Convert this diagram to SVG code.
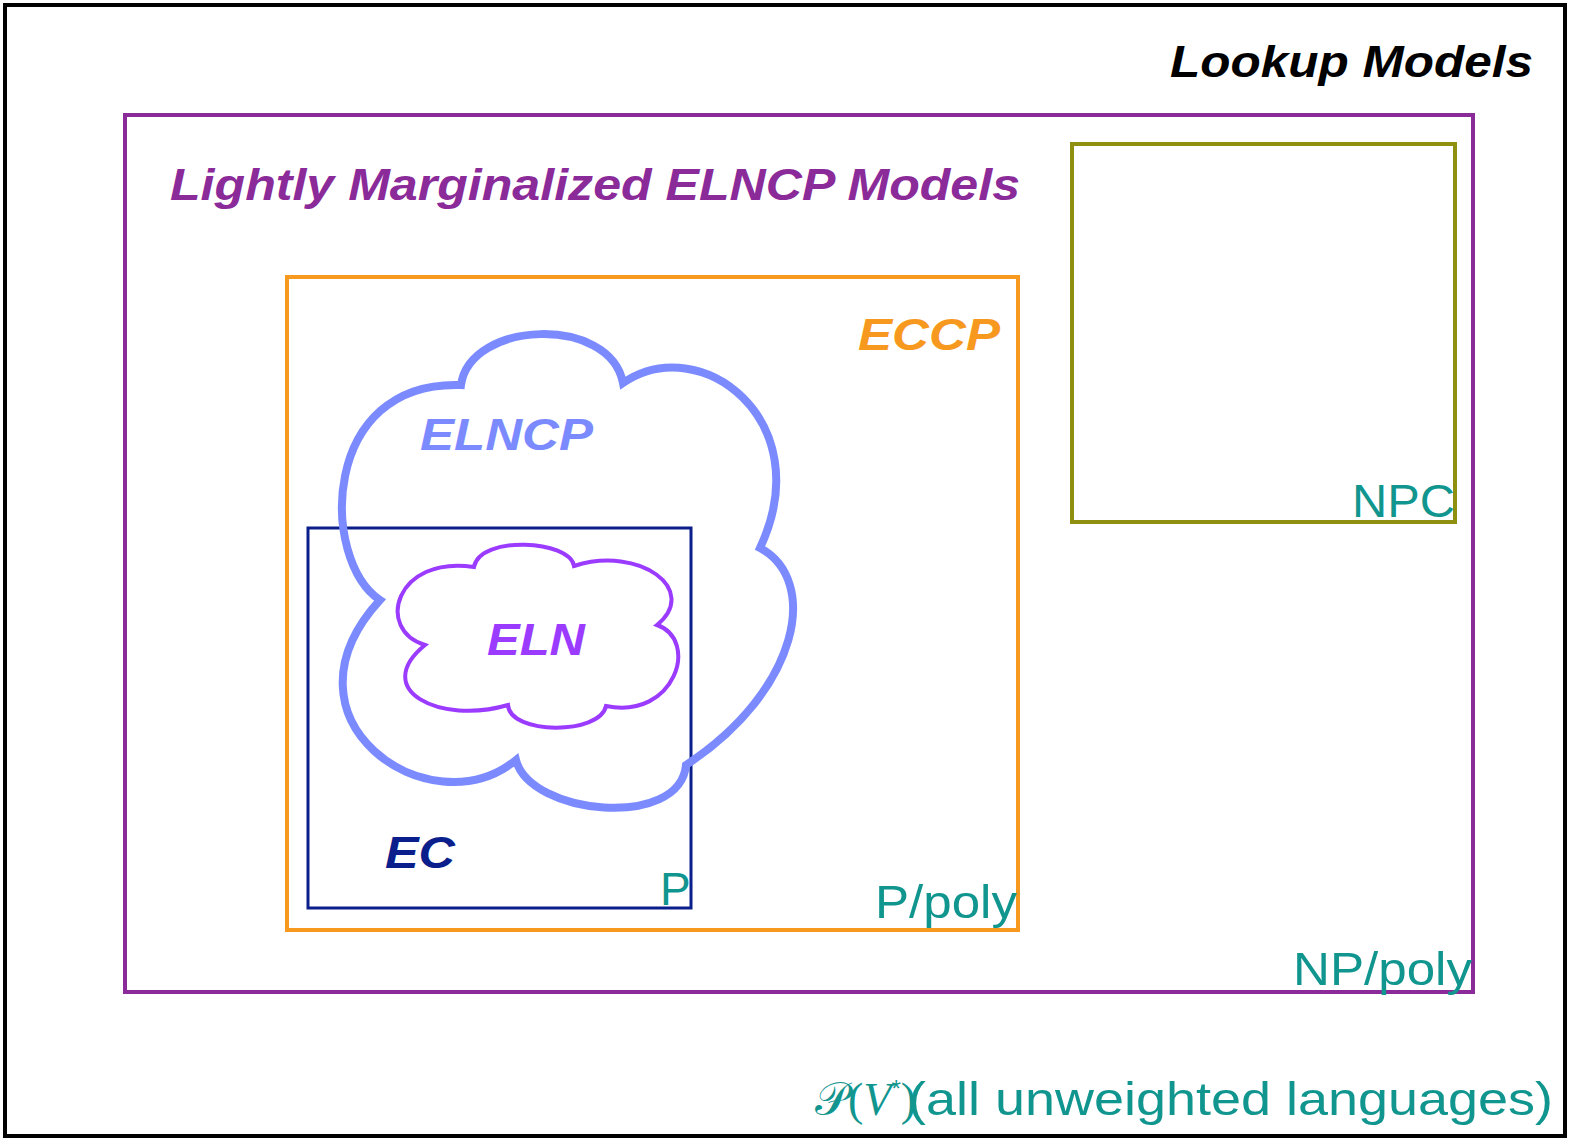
<svg xmlns="http://www.w3.org/2000/svg" width="1575" height="1144" viewBox="0 0 1575 1144">
<style>
.b{font-family:"Liberation Sans",Arial,sans-serif;font-weight:bold;font-style:italic;font-size:44px}
.t{font-family:"Liberation Sans",Arial,sans-serif;font-size:46px;fill:#11958F}
</style>
<rect width="1575" height="1144" fill="#fff"/>
<g id="lookup"><rect x="5" y="5" width="1560" height="1131" fill="none" stroke="#000" stroke-width="4"/>
<text class="b" x="1170" y="77" textLength="363" lengthAdjust="spacingAndGlyphs" fill="#000">Lookup Models</text>
<text class="t" x="815" y="1115" font-size="42">𝒫<tspan font-family="Liberation Serif,serif">(</tspan><tspan font-family="Liberation Serif,serif" font-style="italic">V</tspan><tspan font-size="24" dy="-18">*</tspan><tspan dy="18" font-family="Liberation Serif,serif">)</tspan></text>
<text class="t" x="908" y="1115" textLength="645" lengthAdjust="spacingAndGlyphs">(all unweighted languages)</text></g>
<g id="lm"><rect x="125" y="115" width="1348" height="877" fill="none" stroke="#8B2A99" stroke-width="4"/>
<text class="b" x="170" y="200" textLength="850" lengthAdjust="spacingAndGlyphs" fill="#8B2A99">Lightly Marginalized ELNCP Models</text>
<text class="t" x="1293" y="985" textLength="179" lengthAdjust="spacingAndGlyphs">NP/poly</text></g>
<g id="npc"><rect x="1072" y="144" width="383" height="378" fill="none" stroke="#8F8F10" stroke-width="4"/>
<text class="t" x="1352" y="517" textLength="103" lengthAdjust="spacingAndGlyphs">NPC</text></g>
<g id="eccp"><rect x="287" y="277" width="731" height="653" fill="none" stroke="#F7991E" stroke-width="4"/>
<text class="b" x="858" y="350" textLength="142" lengthAdjust="spacingAndGlyphs" fill="#F7991E">ECCP</text>
<text class="t" x="875" y="918" textLength="142" lengthAdjust="spacingAndGlyphs">P/poly</text></g>
<g id="ec"><rect x="308" y="528" width="383" height="380" fill="none" stroke="#0A1E8C" stroke-width="3"/>
<text class="b" x="385" y="868" textLength="70" lengthAdjust="spacingAndGlyphs" fill="#0A1E8C">EC</text>
<text class="t" x="660" y="905">P</text></g>
<g id="elncp"><path d="M461,385 C470,320 610,315 623,383 C700,330 820,420 760,548 C820,580 800,690 686,765 C680,830 530,815 516,760 C430,830 270,720 380,600 C320,560 320,380 461,385 Z" fill="none" stroke="#7B8BFF" stroke-width="8"/>
<text class="b" x="420" y="450" textLength="173" lengthAdjust="spacingAndGlyphs" fill="#7B8BFF">ELNCP</text></g>
<g id="eln"><path d="M474,567 C480,535 570,540 574,566 C640,545 700,590 657,625 C700,640 675,720 606,706 C600,735 510,735 508,705 C440,725 370,690 425,645 C375,630 395,555 474,567 Z" fill="none" stroke="#9B3BFF" stroke-width="4"/>
<text class="b" x="487" y="655" textLength="98" lengthAdjust="spacingAndGlyphs" fill="#9B3BFF">ELN</text></g>
<g id="connectors"/>
</svg>
